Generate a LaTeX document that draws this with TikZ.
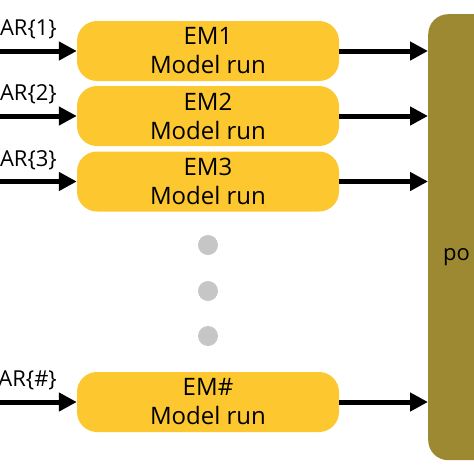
\documentclass[tikz,border=0pt]{standalone}
\usepackage{fontspec}
\setmainfont{Open Sans}
\usetikzlibrary{positioning,arrows.meta}

\definecolor{emyellow}{HTML}{FDC72F}
\definecolor{postolive}{HTML}{9D8931}
\definecolor{dotgray}{HTML}{C6C6C6}

\tikzset{
    emrun/.style={fill=emyellow, rounded corners=20pt, minimum width=262pt,
        minimum height=60pt, align=center, inner sep=0pt,
        font=\fontsize{24}{29}\selectfont},
    feed/.style={line width=5pt, -{Triangle[length=18pt,width=18pt]}},
    arlabel/.style={anchor=base east, inner sep=0pt, font=\fontsize{22}{26}\selectfont},
    gapdot/.style={circle, fill=dotgray, minimum size=20pt, inner sep=0pt}
}

\begin{document}
\begin{tikzpicture}[x=1pt, y=-1pt]
    \useasboundingbox (0, 0) rectangle (474, 474);

    % Post-processing block (cut at the right edge)
    \node[fill=postolive, rounded corners=20pt, minimum width=100pt,
        minimum height=446pt, anchor=north west, inner sep=0pt] (post) at (428, 14) {};
    \node[anchor=base west, inner sep=0pt, font=\fontsize{22}{26}\selectfont]
        (posttext) at (443, 260) {po};

    % Model runs
    \node[emrun] (em1) at (208, 51) {EM1\\Model run};
    \node[emrun] (em2) at (208, 116) {EM2\\Model run};
    \node[emrun] (em3) at (208, 181.5) {EM3\\Model run};
    \node[emrun] (emn) at (208, 402) {EM\#\\Model run};

    % Dots for the runs in between
    \node[gapdot] (d1) at (208, 245) {};
    \node[gapdot] (d2) at (208, 291) {};
    \node[gapdot] (d3) at (208, 336) {};

    % Inputs
    \node[arlabel] (ar1) at (57, 35) {AR\{1\}};
    \node[arlabel] (ar2) at (57, 100) {AR\{2\}};
    \node[arlabel] (ar3) at (57, 166) {AR\{3\}};
    \node[arlabel] (arn) at (57, 386) {AR\{\#\}};

    \coordinate (in1) at (-5, 51);
    \coordinate (in2) at (-5, 116);
    \coordinate (in3) at (-5, 181.5);
    \coordinate (inn) at (-5, 402);

    \draw[feed] (in1) -- (em1.west);
    \draw[feed] (in2) -- (em2.west);
    \draw[feed] (in3) -- (em3.west);
    \draw[feed] (inn) -- (emn.west);

    % Outputs into the post block
    \draw[feed] (em1.east) -- (em1.east -| post.west);
    \draw[feed] (em2.east) -- (em2.east -| post.west);
    \draw[feed] (em3.east) -- (em3.east -| post.west);
    \draw[feed] (emn.east) -- (emn.east -| post.west);
\end{tikzpicture}
\end{document}
